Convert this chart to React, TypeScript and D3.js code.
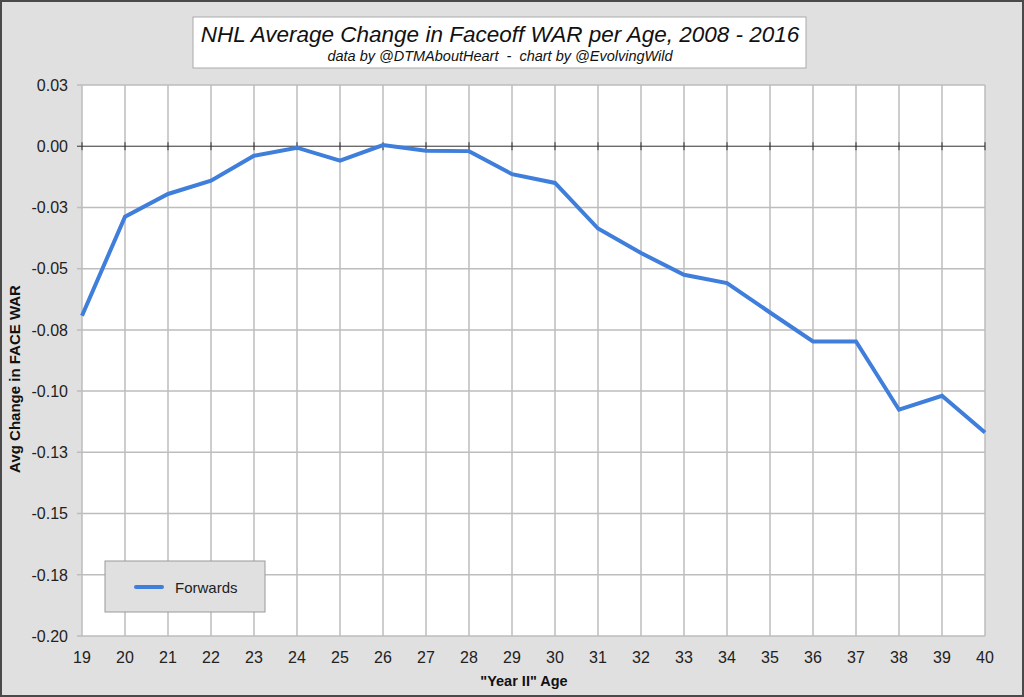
import { useEffect, useRef } from "react";
import * as d3 from "d3";

// ages on the x axis
const ages = [19, 20, 21, 22, 23, 24, 25, 26, 27, 28, 29, 30, 31, 32, 33, 34, 35, 36, 37, 38, 39, 40];
// average change in faceoff WAR, forwards
const forwards = [
  -0.0692, -0.0288, -0.0195, -0.0141, -0.0039, -0.0006, -0.0059, 0.0005, -0.0018, -0.002, -0.0114,
  -0.015, -0.0336, -0.0436, -0.0525, -0.0559, -0.0679, -0.0797, -0.0797, -0.1076, -0.1019, -0.1169,
];
const yTicks = [0.025, 0, -0.025, -0.05, -0.075, -0.1, -0.125, -0.15, -0.175, -0.2];
const yTickLabels = ["0.03", "0.00", "-0.03", "-0.05", "-0.08", "-0.10", "-0.13", "-0.15", "-0.18", "-0.20"];

const width = 1024;
const height = 697;
const margin = { top: 85, right: 39, bottom: 61, left: 82 };
const font = "'Liberation Sans', Arial, Helvetica, sans-serif";
const lineColor = "#3f7edb";

const App = () => {
  const svgRef = useRef<SVGSVGElement>(null);

  useEffect(() => {
    if (!svgRef.current) return;
    const svg = d3.select(svgRef.current);
    svg.selectAll("*").remove();

    const x = d3
      .scaleLinear()
      .domain([19, 40])
      .range([margin.left, width - margin.right]);
    const y = d3
      .scaleLinear()
      .domain([-0.2, 0.025])
      .range([height - margin.bottom, margin.top]);

    // background + frame
    svg.append("rect").attr("width", width).attr("height", height).attr("fill", "#e0e0e0");
    svg
      .append("rect")
      .attr("x", 1)
      .attr("y", 1)
      .attr("width", width - 2)
      .attr("height", height - 2)
      .attr("fill", "none")
      .attr("stroke", "#4a4a4a")
      .attr("stroke-width", 2);

    // plot area
    svg
      .append("rect")
      .attr("x", x(19))
      .attr("y", y(0.025))
      .attr("width", x(40) - x(19))
      .attr("height", y(-0.2) - y(0.025))
      .attr("fill", "#fff");

    const grid = svg.append("g").attr("stroke", "#bdbdbd").attr("stroke-width", 1.5);
    grid
      .selectAll("line.v")
      .data(ages)
      .join("line")
      .attr("class", "v")
      .attr("x1", (d) => x(d))
      .attr("x2", (d) => x(d))
      .attr("y1", y(0.025))
      .attr("y2", y(-0.2));
    grid
      .selectAll("line.h")
      .data(yTicks.filter((t) => t !== 0))
      .join("line")
      .attr("class", "h")
      .attr("x1", x(19) - 5)
      .attr("x2", x(40))
      .attr("y1", (d) => y(d))
      .attr("y2", (d) => y(d));

    // zero line with ticks
    const zero = svg.append("g").attr("stroke", "#333").attr("stroke-width", 1);
    zero
      .append("line")
      .attr("x1", x(19) - 5)
      .attr("x2", x(40))
      .attr("y1", y(0))
      .attr("y2", y(0));
    zero
      .selectAll("line.t")
      .data(ages)
      .join("line")
      .attr("class", "t")
      .attr("x1", (d) => x(d))
      .attr("x2", (d) => x(d))
      .attr("y1", y(0) - 4)
      .attr("y2", y(0) + 4);

    // y tick labels
    svg
      .append("g")
      .selectAll("text")
      .data(yTicks)
      .join("text")
      .attr("x", x(19) - 14)
      .attr("y", (d) => y(d))
      .attr("dy", "0.36em")
      .attr("text-anchor", "end")
      .attr("font-family", font)
      .attr("font-size", 16)
      .attr("fill", "#222")
      .text((_, i) => yTickLabels[i]);

    // x tick labels
    svg
      .append("g")
      .selectAll("text")
      .data(ages)
      .join("text")
      .attr("x", (d) => x(d))
      .attr("y", 663)
      .attr("text-anchor", "middle")
      .attr("font-family", font)
      .attr("font-size", 16)
      .attr("fill", "#222")
      .text((d) => String(d));

    // series line
    const line = d3
      .line<number>()
      .x((_, i) => x(ages[i]))
      .y((d) => y(d));
    svg
      .append("path")
      .datum(forwards)
      .attr("d", line)
      .attr("fill", "none")
      .attr("stroke", lineColor)
      .attr("stroke-width", 4)
      .attr("stroke-linejoin", "miter");

    // axis titles
    svg
      .append("text")
      .attr("x", 524)
      .attr("y", 686)
      .attr("text-anchor", "middle")
      .attr("font-family", font)
      .attr("font-size", 14.5)
      .attr("font-weight", "bold")
      .attr("fill", "#111")
      .text('"Year II" Age');
    svg
      .append("text")
      .attr("transform", `translate(20,379) rotate(-90)`)
      .attr("text-anchor", "middle")
      .attr("font-family", font)
      .attr("font-size", 15)
      .attr("font-weight", "bold")
      .attr("fill", "#111")
      .text("Avg Change in FACE WAR");

    // title box
    svg
      .append("rect")
      .attr("x", 193)
      .attr("y", 17)
      .attr("width", 613)
      .attr("height", 51)
      .attr("fill", "#fff")
      .attr("stroke", "#aaa")
      .attr("stroke-width", 1);
    svg
      .append("text")
      .attr("x", 500)
      .attr("y", 42)
      .attr("text-anchor", "middle")
      .attr("font-family", font)
      .attr("font-size", 22.5)
      .attr("font-style", "italic")
      .attr("fill", "#111")
      .text("NHL Average Change in Faceoff WAR per Age, 2008 - 2016");
    svg
      .append("text")
      .attr("x", 500)
      .attr("y", 61)
      .attr("text-anchor", "middle")
      .attr("font-family", font)
      .attr("font-size", 14.5)
      .attr("font-style", "italic")
      .attr("fill", "#111")
      .attr("xml:space", "preserve")
      .style("white-space", "pre")
      .text("data by @DTMAboutHeart  -  chart by @EvolvingWild");

    // legend
    const lg = svg.append("g");
    lg.append("rect")
      .attr("x", 105)
      .attr("y", 561)
      .attr("width", 160)
      .attr("height", 51)
      .attr("fill", "#e0e0e0")
      .attr("stroke", "#9a9a9a")
      .attr("stroke-width", 1);
    lg.append("line")
      .attr("x1", 136)
      .attr("x2", 162)
      .attr("y1", 587)
      .attr("y2", 587)
      .attr("stroke", lineColor)
      .attr("stroke-width", 4)
      .attr("stroke-linecap", "round");
    lg.append("text")
      .attr("x", 175)
      .attr("y", 588)
      .attr("dy", "0.36em")
      .attr("font-family", font)
      .attr("font-size", 15)
      .attr("fill", "#222")
      .text("Forwards");
  }, []);

  return (
    <svg
      ref={svgRef}
      width={width}
      height={height}
      style={{ position: "absolute", left: 0, top: 0, display: "block" }}
    ></svg>
  );
};

export default App;
